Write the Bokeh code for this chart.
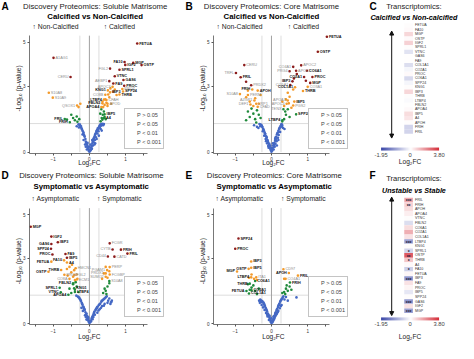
from bokeh.plotting import figure
from bokeh.models import (Range1d, FixedTicker, Label, Legend, LegendItem, Arrow,
                          NormalHead, ColorBar, LinearColorMapper, ColumnDataSource)
from bokeh.layouts import row, column
from bokeh.core.properties import value
from bokeh.embed import file_html
from bokeh.resources import INLINE

# ---------------------------------------------------------------- data
P_THRESH = [1.301, 2.0, 3.0]          # -log10(0.05), -log10(0.01), -log10(0.001)
P_LABELS = ["P > 0.05", "P < 0.05", "P < 0.01", "P < 0.001"]
FC_THRESH = 0.263
X_TICKS = [-1, 0, 1]
X_MINOR = [-1.5, -0.5, 0.5, 1.5]
Y_TICKS = [0, 3, 5]
Y_AXIS_TOP = 5.3
X_AXIS_RIGHT = 1.6
CB_LOW, CB_HIGH = -1.95, 3.80

# labelled proteins: (gene, log2FC, -log10 p)
A_pts = [("FETUA", 1.32, 4.94), ("FA10", 0.97, 4.10), ("MGP", 1.21, 4.06), ("IGF2", 0.99, 3.97),
         ("OSTP", 1.44, 3.96), ("FGL2", 0.57, 3.80), ("SPRL1", 0.83, 3.75), ("VTNC", 0.70, 3.45),
         ("GAS6", 0.94, 3.28), ("AEBP1", 0.55, 3.23), ("FA9", 0.66, 3.12), ("PROC", 0.96, 3.02),
         ("APOC3", 0.64, 2.97), ("KNG1", 0.51, 2.81), ("PROZ", 0.91, 2.87), ("IBP3", 0.57, 2.72),
         ("SPP24", 0.93, 2.76), ("THRB", 0.83, 2.62), ("CO8B", 0.44, 2.61), ("LTBP4", 0.40, 2.39),
         ("CFAH", 0.47, 2.37), ("FBLN2", 0.36, 2.22), ("APOD", 0.50, 2.20), ("APOA4", 0.33, 2.05),
         ("IBP5", 0.42, 1.72), ("A4", 0.40, 1.55), ("A1AG1", -0.99, 4.29), ("CERU", -0.52, 3.42),
         ("S10A8", -1.12, 2.70), ("S10A9", -1.01, 2.48), ("QSOX1", -0.34, 2.12), ("FRIL", -0.68, 1.51),
         ("FRIH", -0.54, 1.36)]
A_side = "RLRRRLRRRLRRLLRRRRLLRLRLRRRLRRLLL"
A_bg = [(0.00, 0.02), (0.02, 0.05), (-0.02, 0.06), (0.03, 0.12), (-0.03, 0.15), (0.05, 0.20),
        (-0.05, 0.22), (0.06, 0.30), (-0.06, 0.32), (0.08, 0.40), (-0.08, 0.38), (0.09, 0.50),
        (-0.10, 0.48), (0.11, 0.58), (-0.11, 0.60), (0.13, 0.67), (-0.13, 0.70), (0.15, 0.75),
        (-0.15, 0.78), (0.17, 0.85), (-0.16, 0.88), (0.19, 0.92), (-0.18, 0.95), (0.21, 1.00),
        (-0.20, 1.02), (0.23, 1.08), (-0.22, 1.10), (0.26, 1.12), (-0.25, 1.15), (0.28, 1.20),
        (-0.27, 1.22), (0.30, 1.25), (0.33, 1.28), (-0.30, 1.27), (0.36, 1.29), (0.04, 0.10),
        (-0.01, 0.25), (0.07, 0.15), (0.10, 0.30), (-0.07, 0.12), (0.12, 0.45), (0.15, 0.55),
        (-0.12, 0.35), (0.18, 0.68), (0.22, 0.85), (-0.35, 1.18), (0.38, 1.22), (0.25, 0.95),
        (-0.19, 0.80), (0.31, 1.05), (0.16, 0.40),
        (0.01, 0.08), (-0.04, 0.18), (0.06, 0.26), (-0.09, 0.43), (0.12, 0.62), (-0.14, 0.74),
        (0.16, 0.80), (-0.17, 0.84), (0.20, 0.96), (-0.21, 1.05), (0.24, 1.02), (-0.23, 1.18),
        (0.27, 1.15), (-0.26, 1.25), (0.29, 1.10), (0.32, 1.20), (-0.29, 1.12), (0.35, 1.24),
        (0.03, 0.35), (-0.05, 0.42), (0.08, 0.55), (0.14, 0.35), (-0.10, 0.25), (0.20, 0.60),
        (0.26, 0.75), (-0.16, 0.55), (0.40, 1.28), (0.34, 0.98),
        (-0.45, 1.55), (-0.40, 1.45), (-0.35, 1.62), (-0.50, 1.70), (-0.33, 1.38), (-0.62, 1.48),
        (-0.28, 1.50), (0.31, 1.40), (0.34, 1.55), (0.37, 1.70), (0.40, 1.85), (0.33, 1.95),
        (0.42, 1.60), (0.45, 1.50), (0.30, 1.75), (0.36, 1.48),
        (0.38, 2.05), (0.42, 2.15), (0.47, 2.25), (0.36, 2.30), (0.50, 2.10), (0.44, 2.40),
        (0.55, 2.50), (0.60, 2.20), (0.52, 2.62), (0.65, 2.75), (0.58, 2.90), (0.70, 2.85),
        (0.75, 2.60), (-0.30, 2.05), (-0.25, 2.20)]

B_pts = [("FETUA", 1.53, 5.25), ("OSTP", 1.28, 4.57), ("CO4A1", 0.60, 3.88), ("APOC2", 0.82, 3.95),
         ("PRG4", 0.50, 3.68), ("APOC1", 0.68, 3.70), ("CO6A1", 0.98, 3.70), ("CO2A1", 0.90, 3.42),
         ("PROC", 1.13, 3.42), ("IBP3", 0.58, 3.22), ("CO5A1", 0.52, 3.05), ("MGP", 1.07, 3.15),
         ("COL1A1", 0.65, 2.95), ("CO3A1", 1.00, 2.97), ("THRB", 0.87, 2.78), ("APOA1", 0.45, 2.35),
         ("IBP5", 0.63, 2.30), ("APOC4", 0.42, 2.20), ("PGS2", 0.60, 2.12), ("TENX", 0.33, 1.95),
         ("SPP24", 0.68, 1.72), ("LTBP4", 0.30, 1.45), ("CERU", -0.75, 3.96), ("TRFL", -0.98, 3.60),
         ("FRIL", -0.85, 3.41), ("PRDX2", -0.56, 3.04), ("FRIH", -0.53, 2.85), ("APOH", -0.38, 2.80),
         ("S10A8", -0.87, 2.64), ("PERM", -0.65, 2.60), ("AZGP1", -0.47, 2.35), ("LRP1", -0.42, 2.20),
         ("DEF1", -0.58, 2.17), ("CFAD", -0.38, 2.06)]
B_side = "RRLRLRRLRLLRLRRLRLRLRLRLRRLRLRLRLR"
B_bg = [(0.00, 0.02), (0.02, 0.06), (-0.02, 0.08), (0.03, 0.14), (-0.04, 0.16), (0.05, 0.22),
        (-0.05, 0.25), (0.07, 0.32), (-0.07, 0.34), (0.08, 0.42), (-0.09, 0.44), (0.10, 0.52),
        (-0.11, 0.55), (0.12, 0.60), (-0.13, 0.65), (0.13, 0.70), (-0.15, 0.72), (0.15, 0.80),
        (-0.17, 0.82), (0.17, 0.88), (-0.19, 0.90), (0.19, 0.97), (-0.21, 0.98), (0.21, 1.05),
        (-0.23, 1.06), (0.23, 1.12), (-0.25, 1.14), (0.25, 1.18), (-0.27, 1.20), (0.27, 1.24),
        (-0.30, 1.25), (0.28, 1.28), (-0.33, 1.28), (0.06, 0.12), (-0.03, 0.30), (0.09, 0.25),
        (0.11, 0.38), (-0.08, 0.20), (0.14, 0.50), (-0.12, 0.40), (0.18, 0.65), (-0.16, 0.60),
        (0.20, 0.78), (-0.20, 0.75), (-0.40, 1.15), (-0.48, 1.22), (0.32, 1.10), (0.24, 0.92),
        (-0.24, 0.95), (0.01, 0.18),
        (0.01, 0.10), (-0.03, 0.20), (0.05, 0.30), (-0.10, 0.50), (0.11, 0.66), (-0.14, 0.70),
        (0.16, 0.84), (-0.18, 0.86), (0.20, 0.92), (-0.22, 1.02), (0.22, 1.08), (-0.26, 1.17),
        (0.26, 1.20), (-0.28, 1.23), (0.29, 1.15), (0.30, 1.22), (-0.31, 1.18), (0.04, 0.40),
        (-0.06, 0.38), (0.10, 0.60), (0.15, 0.30), (-0.09, 0.28), (0.19, 0.55), (-0.15, 0.50),
        (0.36, 1.05), (-0.36, 1.10),
        (-0.60, 1.60), (-0.50, 1.75), (-0.45, 1.50), (-0.40, 1.90), (-0.55, 1.98), (-0.35, 1.70),
        (-0.65, 1.85), (-0.30, 1.55), (-0.42, 1.35), (-0.70, 1.45), (0.35, 1.50), (0.40, 1.70),
        (0.45, 1.95), (0.30, 1.40), (0.50, 1.60), (0.38, 1.85),
        (-0.50, 2.10), (-0.45, 2.45), (-0.60, 2.30), (-0.35, 2.20), (-0.70, 2.50), (-0.30, 2.60),
        (-0.65, 2.80), (0.35, 2.10), (0.40, 2.40), (0.50, 2.52), (0.48, 2.22), (0.55, 2.02),
        (0.45, 2.70), (0.60, 2.85), (0.30, 2.30),
        (0.70, 3.55), (0.62, 3.35), (0.95, 3.25), (-0.70, 3.20)]

D_pts = [("MGP", -1.62, 4.44), ("IGF2", -1.05, 3.99), ("IBP3", -0.87, 3.73), ("GAS6", -1.05, 3.65),
         ("SPP24", -1.06, 3.43), ("PROC", -1.02, 3.17), ("FA9", -0.66, 3.19), ("IBP5", -0.62, 3.02),
         ("FETUA", -1.05, 2.84), ("FA10", -0.70, 2.90), ("A4", -0.62, 2.80), ("OSTP", -1.13, 2.38),
         ("THRB", -0.78, 2.46), ("PROZ", -0.69, 2.24), ("FGL2", -0.42, 2.22), ("HMCN1", -0.38, 2.54),
         ("CO8A", -0.55, 2.05), ("ECM1", -0.35, 2.02), ("FBLN2", -0.45, 1.85), ("KNG1", -0.42, 1.62),
         ("SPRL1", -0.82, 1.64), ("LTBP4", -0.40, 1.45), ("VTNC", -0.79, 1.43), ("APOA4", -0.58, 1.32),
         ("FCGR", 0.56, 3.68), ("CYTB", 0.64, 3.40), ("FRIH", 0.87, 3.39), ("FRIL", 1.05, 3.21),
         ("CD44", 0.51, 3.08), ("CATD", 0.69, 3.07), ("PERP", 0.56, 2.59), ("PGAM1", 0.49, 2.45),
         ("PRDX1", 0.45, 2.30), ("FCGBP", 0.56, 2.25), ("SUMO2", 0.45, 2.15), ("S10A8", 0.55, 1.95)]
D_side = "RRRLLLRRLLRLLRRRLRLRLRLLRLRRLRRLLRLR"
D_bg = [(0.00, 0.02), (0.02, 0.06), (-0.02, 0.08), (0.04, 0.14), (-0.04, 0.15), (0.06, 0.22),
        (-0.05, 0.24), (0.08, 0.30), (-0.07, 0.32), (0.10, 0.38), (-0.09, 0.42), (0.12, 0.46),
        (-0.11, 0.52), (0.14, 0.55), (-0.13, 0.62), (0.17, 0.62), (-0.15, 0.70), (0.20, 0.70),
        (-0.17, 0.78), (0.23, 0.78), (-0.19, 0.86), (0.26, 0.85), (-0.21, 0.94), (0.30, 0.92),
        (-0.23, 1.02), (0.33, 1.00), (-0.25, 1.10), (0.36, 1.06), (-0.28, 1.18), (0.40, 1.12),
        (-0.32, 1.24), (0.44, 1.18), (-0.36, 1.28), (0.50, 0.95), (0.58, 0.90), (0.48, 1.25),
        (0.62, 1.05), (0.05, 0.10), (-0.03, 0.28), (0.09, 0.20), (0.15, 0.40), (-0.08, 0.18),
        (0.22, 0.50), (-0.12, 0.38), (0.28, 0.65), (-0.18, 0.58), (0.35, 0.80), (-0.22, 0.72),
        (0.42, 0.90), (0.55, 1.15),
        (0.01, 0.10), (-0.03, 0.20), (0.07, 0.26), (-0.08, 0.46), (0.13, 0.50), (-0.14, 0.66),
        (0.18, 0.66), (-0.16, 0.74), (0.21, 0.74), (-0.20, 0.90), (0.28, 0.88), (-0.24, 1.06),
        (0.34, 1.04), (-0.27, 1.14), (0.38, 1.09), (-0.30, 1.21), (0.42, 1.15), (0.46, 1.22),
        (0.52, 1.05), (0.60, 0.98), (0.11, 0.30), (-0.06, 0.34), (0.25, 0.60), (0.32, 0.72),
        (-0.10, 0.30), (0.40, 0.82),
        (0.45, 1.50), (0.50, 1.70), (0.42, 1.60), (0.38, 1.40), (0.55, 1.85), (0.47, 1.35),
        (-0.50, 1.40), (-0.40, 1.55), (-0.35, 1.70), (-0.45, 1.80), (-0.30, 1.45), (-0.55, 1.60),
        (-0.38, 1.90),
        (-0.40, 2.00), (-0.45, 2.15), (-0.35, 2.25), (-0.50, 2.35), (-0.42, 2.45), (-0.55, 2.60),
        (-0.60, 2.20), (-0.48, 2.70), (-0.33, 2.05), (-0.62, 2.50), (0.40, 2.30), (0.45, 2.60),
        (0.50, 2.10), (0.55, 2.40), (0.35, 2.05)]

E_pts = [("SPP24", -0.91, 3.90), ("PROC", -1.00, 3.43), ("IBP3", -0.56, 2.85), ("IBP5", -0.56, 2.56),
         ("OSTP", -0.63, 2.51), ("MGP", -0.95, 2.39), ("LTBP4", -0.56, 2.12), ("ITA1", -0.42, 2.12),
         ("CO6A1", -0.45, 1.95), ("THRB", -0.60, 1.83), ("FETUA", -0.69, 1.49), ("CO2A1", -0.55, 1.52),
         ("COL1A1", -0.62, 1.38), ("CD97", 0.33, 2.49), ("APOH", 0.48, 2.32), ("FRIL", 0.73, 2.20),
         ("CO4A1", 0.39, 2.05), ("FRIH", 0.51, 1.88)]
E_side = "RRRRLLLRRLLRRRLRRR"
E_bg = [(0.00, 0.02), (0.02, 0.05), (-0.02, 0.07), (0.03, 0.12), (-0.03, 0.14), (0.05, 0.20),
        (-0.05, 0.22), (0.06, 0.28), (-0.06, 0.30), (0.08, 0.36), (-0.08, 0.38), (0.10, 0.44),
        (-0.10, 0.46), (0.12, 0.52), (-0.12, 0.55), (0.14, 0.60), (-0.14, 0.63), (0.16, 0.68),
        (-0.16, 0.72), (0.18, 0.76), (-0.18, 0.80), (0.20, 0.84), (-0.20, 0.88), (0.22, 0.92),
        (-0.22, 0.96), (0.24, 1.00), (-0.25, 1.02), (0.27, 1.08), (-0.28, 1.06), (0.30, 1.15),
        (-0.31, 1.10), (0.33, 1.25), (-0.34, 1.05), (0.04, 0.09), (-0.01, 0.24), (0.07, 0.18),
        (0.09, 0.26), (-0.07, 0.16), (0.11, 0.34), (-0.11, 0.32), (0.15, 0.45), (-0.15, 0.48),
        (0.19, 0.58), (-0.19, 0.62), (0.23, 0.70), (-0.23, 0.74), (0.69, 1.20), (0.45, 1.05),
        (0.28, 0.85), (-0.27, 0.85),
        (0.01, 0.10), (-0.04, 0.19), (0.04, 0.16), (-0.09, 0.42), (0.11, 0.48), (-0.13, 0.59),
        (0.15, 0.64), (-0.15, 0.68), (0.19, 0.80), (-0.19, 0.84), (0.21, 0.88), (-0.21, 0.92),
        (0.25, 1.04), (-0.26, 0.98), (0.28, 1.12), (-0.29, 1.02), (0.31, 1.20), (0.06, 0.33),
        (-0.05, 0.35), (0.13, 0.40), (-0.12, 0.40), (0.17, 0.52), (0.36, 1.10), (0.40, 1.22),
        (-0.32, 0.95), (0.26, 0.80),
        (0.35, 1.45), (0.40, 1.60), (0.45, 1.50), (0.50, 1.70), (0.38, 1.35), (0.55, 1.55),
        (0.30, 1.40), (0.42, 1.75), (-0.45, 1.50), (-0.55, 1.65), (-0.50, 1.75), (-0.40, 1.35),
        (-0.60, 1.55), (-0.35, 1.60), (-0.65, 1.80),
        (-0.40, 2.00), (-0.55, 2.25), (0.35, 2.05), (-0.48, 2.05), (-0.62, 2.10)]

# transcriptomics (log2FC)
C_genes = ["FETUA", "FA10", "MGP", "OSTP", "IGF2", "SPRL1", "VTNC", "GAS6", "FA9", "COL1A1",
           "CO2A1", "PROC", "CO6A1", "SPP24", "KNG1", "IBP3", "THRB", "LTBP4", "FBLN2", "APOA4",
           "IBP5", "A4", "APOH", "FRIH", "FRIL"]
C_fc = [0.05, 0.10, 0.70, 0.10, 0.80, 0.05, -0.30, 0.02, 0.02, -0.35, -0.10, 0.10, -0.40, -0.10,
        0.05, 0.70, 0.05, -0.05, 0.02, 0.10, 0.60, 0.45, 0.05, -0.45, -0.45]
F_genes = ["FRIL", "FRIH", "APOH", "APOA4", "VTNC", "FBLN2", "CO6A1", "CO2A1", "COL1A1", "LTBP4",
           "KNG1", "SPRL1", "OSTP", "THRB", "A4", "FA10", "FETUA", "IBP3", "FA9", "PROC", "IBP5",
           "SPP24", "GAS6", "IGF2", "MGP"]
F_fc = [1.50, 0.80, 0.60, 0.30, 0.05, -0.35, 0.60, 1.40, 0.50, -1.00, 0.05, -0.45, 2.90, 1.00,
        0.10, -0.50, 0.15, -1.10, 0.50, 0.20, -0.25, 0.05, -1.10, 0.50, -1.00]
F_sig = ["***", "**", "", "", "", "", "", "", "", "***", "", "*", "**", "*", "", "*", "",
         "***", "", "", "", "", "***", "", "***"]

# ---------------------------------------------------------------- style / geometry
SX = 458 / 474
SY = 343 / 359
FONT = "Liberation Sans"
P_COLORS = ["#4468c4", "#1f8a3b", "#f39a2b", "#8c1c1c"]
BLUE = (58, 70, 168)
WHITE = (255, 255, 255)
RED = (211, 37, 49)
TRANSCRIPT = set(C_genes) | set(F_genes)


def mix(a, b, t):
    t = max(0.0, min(1.0, t))
    return "#%02x%02x%02x" % tuple(int(round(a[i] + (b[i] - a[i]) * t)) for i in range(3))


def fc_color(v):
    return mix(WHITE, BLUE, v / CB_LOW) if v < 0 else mix(WHITE, RED, v / CB_HIGH)


def pcat(lp):
    return sum(1 for t in P_THRESH if lp >= t)


def add_text(p, fh, txt, lx, ly, size, style="normal", align="center", angle=0.0, color="#222222"):
    # lx, ly: position in the reference panel (px from its top-left); the frame fills the canvas
    p.add_layout(Label(x=lx * SX, y=fh - ly * SY, x_units="screen", y_units="screen", text=txt,
                       text_font=FONT, text_font_size=size, text_font_style=style,
                       text_align=align, text_baseline="middle", angle=angle, text_color=color))


TOP = dict(fh=167, y0=158.7, ys=23.0, ly0=6, ly1=17, ly2=27, yl=92, xl=170, legb=156)
BOT = dict(fh=176, y0=163.3, ys=22.8, ly0=8, ly1=20, ly2=32, yl=98, xl=177, legb=157)


def volcano(letter, t1, t2, lt, rt, pts, sides, bg, xmin, x0, g, tcx):
    fw, fh = 184, g["fh"]
    xs = 37.5 * SX
    ys = g["ys"] * SY
    x0s = x0 * SX
    y0s = g["y0"] * SY
    p = figure(width=fw, height=fh,
               x_range=Range1d(-x0s / xs, (fw - x0s) / xs),
               y_range=Range1d(-(fh - y0s) / ys, y0s / ys),
               output_backend="svg", toolbar_location=None, min_border=0)
    p.outline_line_color = None
    p.xgrid.visible = False
    p.ygrid.visible = False
    p.xaxis.fixed_location = -0.06
    p.yaxis.fixed_location = xmin
    p.xaxis.ticker = FixedTicker(ticks=X_TICKS, minor_ticks=X_MINOR)
    p.xaxis.bounds = (xmin, X_AXIS_RIGHT)
    p.yaxis.ticker = FixedTicker(ticks=Y_TICKS)
    p.yaxis.bounds = (-0.06, Y_AXIS_TOP)
    for ax in (p.xaxis[0], p.yaxis[0]):
        ax.major_label_text_font_size = "4.6px"
        ax.major_label_text_font = FONT
        ax.major_label_text_color = "#333333"
        ax.axis_line_color = "#555555"
        ax.axis_line_width = 0.8
        ax.major_tick_line_color = "#555555"
        ax.minor_tick_line_color = "#555555"
        ax.major_tick_out = 2
        ax.major_tick_in = 0
        ax.minor_tick_out = 2
        ax.minor_tick_in = 0
        ax.major_label_standoff = 2

    # significance guide lines
    p.segment(x0=[-FC_THRESH, FC_THRESH], y0=[0, 0], x1=[-FC_THRESH, FC_THRESH],
              y1=[Y_AXIS_TOP, Y_AXIS_TOP], line_color="#d4d4d4", line_width=0.8)
    p.segment(x0=[xmin], y0=[P_THRESH[0]], x1=[2.05], y1=[P_THRESH[0]],
              line_color="#d4d4d4", line_width=0.8)
    p.segment(x0=[0], y0=[0], x1=[0], y1=[Y_AXIS_TOP], line_color="#a0a0a0", line_width=1.0)

    bx = [b[0] for b in bg]
    by = [b[1] for b in bg]
    p.scatter(bx, by, size=2.6, line_color=None, fill_color=[P_COLORS[pcat(v)] for v in by])

    names = [q[0] for q in pts]
    lx = [q[1] for q in pts]
    ly = [q[2] for q in pts]
    sd = (sides + "R" * len(pts))[:len(pts)]
    p.scatter(lx, ly, size=2.6, line_color=None, fill_color=[P_COLORS[pcat(v)] for v in ly])
    src = ColumnDataSource(dict(
        x=lx, y=ly, t=names,
        al=["left" if s == "R" else "right" for s in sd],
        xo=[2.0 if s == "R" else -2.0 for s in sd],
        fs=["bold" if n in TRANSCRIPT else "normal" for n in names],
        tc=["#111111" if n in TRANSCRIPT else "#8e8e8e" for n in names]))
    p.text(x="x", y="y", text="t", source=src, text_align="al", x_offset="xo",
           text_font_style="fs", text_color="tc", text_baseline="middle",
           text_font=value(FONT), text_font_size=value("3.8px"))

    items = []
    for lab, col in zip(P_LABELS, P_COLORS):
        r = p.quad(left=[], right=[], top=[], bottom=[], fill_color=col, line_color=None)
        items.append(LegendItem(label=lab, renderers=[r]))
    leg = Legend(items=items, location=(124, fh - g["legb"] * SY), label_text_font=FONT,
                 label_text_font_size="5.6px", label_height=7, glyph_height=8, glyph_width=8,
                 spacing=1, padding=2, margin=0, label_standoff=2,
                 border_line_color="#8a8a8a", border_line_width=0.6, background_fill_alpha=1.0)
    p.add_layout(leg)

    add_text(p, fh, letter, 1, g["ly0"], "10px", "bold", "left", color="#000000")
    add_text(p, fh, t1, tcx, g["ly0"], "7.8px")
    add_text(p, fh, t2, tcx, g["ly1"], "7.8px", "bold", color="#000000")
    add_text(p, fh, "\u2191 " + lt, 57, g["ly2"], "6.8px")
    add_text(p, fh, "\u2191 " + rt, 123, g["ly2"], "6.8px")
    add_text(p, fh, "-Log\u2081\u2080 (p-value)", 19, g["yl"], "6.6px", angle=1.5708)
    add_text(p, fh, "Log\u2082FC", 92, g["xl"], "6.6px")
    return p


HTOP = dict(fh=167, row0=26, pitch=4.63, ar=(32, 144), cb=156, unit=168, l0=6, t1=6, t2=18)
HBOT = dict(fh=176, row0=34, pitch=4.83, ar=(31, 155), cb=159, unit=177, l0=8, t1=12, t2=24)


def heatmap(letter, t1, t2, genes, fcs, sig, h):
    fw, fh = 90, h["fh"]
    cx = 41.5 * SX
    cw = 9 * SX
    r0 = h["row0"] * SY
    pp = h["pitch"] * SY
    ytop = r0 / pp
    p = figure(width=fw, height=fh, x_range=Range1d(-cx / cw, (fw - cx) / cw),
               y_range=Range1d(ytop - fh / pp, ytop), x_axis_location=None,
               y_axis_location=None, output_backend="svg", toolbar_location=None, min_border=0)
    p.outline_line_color = None
    p.xgrid.visible = False
    p.ygrid.visible = False
    n = len(genes)
    ys = [-i for i in range(n)]
    src = ColumnDataSource(dict(x=[0] * n, y=ys, g=genes, c=[fc_color(v) for v in fcs],
                                s=sig if sig else [""] * n))
    p.rect(x="x", y="y", width=1, height=1, fill_color="c", line_color=None, source=src)
    p.text(x="x", y="y", text="g", source=src, x_offset=cw * 0.5 + 2, text_align="left",
           text_baseline="middle", text_font=value(FONT), text_font_size=value("3.6px"),
           text_color="#333333")
    if sig:
        p.text(x="x", y="y", text="s", source=src, y_offset=1.2, text_align="center",
               text_baseline="middle", text_font=value(FONT), text_font_size=value("5px"),
               text_font_style="bold", text_color="#1c1c3c")
    ax = (24 * SX - cx) / cw
    ay0 = ytop - h["ar"][0] * SY / pp
    ay1 = ytop - h["ar"][1] * SY / pp
    p.add_layout(Arrow(x_start=ax, y_start=ay0, x_end=ax, y_end=ay1, line_width=1.0,
                       line_color="#111111",
                       start=NormalHead(size=4, fill_color="#111111", line_color="#111111"),
                       end=NormalHead(size=4, fill_color="#111111", line_color="#111111")))
    pal = [mix(BLUE, WHITE, i / 127) for i in range(128)] + [mix(WHITE, RED, i / 127) for i in range(128)]
    mapper = LinearColorMapper(palette=pal, low=-1, high=1)
    cb = ColorBar(color_mapper=mapper, orientation="horizontal", width=58, height=3,
                  location=(13 * SX, fh - (h["cb"] * SY + 10)),
                  ticker=FixedTicker(ticks=[-1, 0, 1]),
                  major_label_overrides={-1: "-1.95", 0: "0", 1: "3.80"},
                  major_label_text_font=FONT, major_label_text_font_size="5.8px",
                  major_tick_line_color=None, bar_line_color=None, padding=0, margin=0,
                  label_standoff=2, background_fill_alpha=0, border_line_color=None)
    p.add_layout(cb)
    add_text(p, fh, letter, 1, h["l0"], "10px", "bold", "left", color="#000000")
    add_text(p, fh, t1, 47, h["t1"], "7.6px")
    add_text(p, fh, t2, 47, h["t2"], "7.2px", "bold italic", color="#000000")
    add_text(p, fh, "Log\u2082FC", 43, h["unit"], "6.6px")
    return p


pA = volcano("A", "Discovery Proteomics: Soluble Matrisome", "Calcified vs Non-Calcified",
             "Non-Calcified", "Calcified", A_pts, A_side, A_bg, -1.65, 92, TOP, 98)
pB = volcano("B", "Discovery Proteomics: Core Matrisome", "Calcified vs Non-Calcified",
             "Non-Calcified", "Calcified", B_pts, B_side, B_bg, -1.6, 90, TOP, 90)
pC = heatmap("C", "Transcriptomics:", "Calcified vs Non-calcified", C_genes, C_fc, None, HTOP)
pD = volcano("D", "Discovery Proteomics: Soluble Matrisome", "Symptomatic vs Asymptomatic",
             "Asymptomatic", "Symptomatic", D_pts, D_side, D_bg, -1.65, 92, BOT, 94)
pE = volcano("E", "Discovery Proteomics: Core Matrisome", "Symptomatic vs Asymptomatic",
             "Asymptomatic", "Symptomatic", E_pts, E_side, E_bg, -1.6, 90, BOT, 93)
pF = heatmap("F", "Transcriptomics:", "Unstable vs Stable", F_genes, F_fc, F_sig, HBOT)

layout = column(row(pA, pB, pC), row(pD, pE, pF))
open("out.html", "w").write(file_html(layout, INLINE))
